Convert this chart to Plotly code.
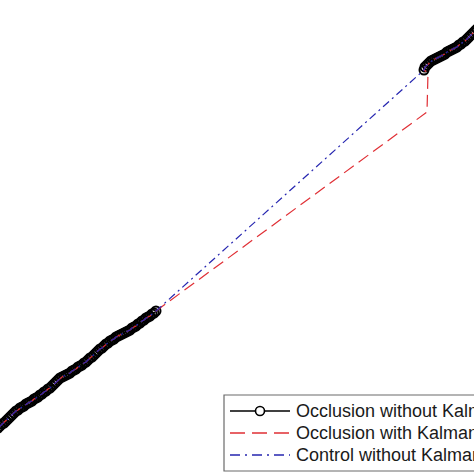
import plotly.graph_objects as go

# tracked positions (image pixels, y grows downward) before the occlusion
before_x = [-2, 0, 2, 4, 6, 8, 10, 12, 14, 16, 18, 20, 22, 24, 26, 28, 30, 32, 34, 36,
            38, 40, 42, 44, 46, 48, 50, 52, 54, 56, 58, 60, 62, 64, 66, 68, 70, 72, 74, 76,
            78, 80, 82, 84, 86, 88, 90, 92, 94, 96, 98, 100, 102, 104, 106, 108, 110, 112, 114, 116,
            118, 120, 122, 124, 126, 128, 130, 132, 134, 136, 138, 140, 142, 144, 146, 148, 150, 152, 154, 156]
before_y = [428, 426, 424, 423, 421, 419, 417, 415, 413, 411, 410, 408, 407, 406, 404, 403, 402, 401, 399, 398,
            397, 395, 394, 392, 391, 389, 388, 386, 384, 382, 380, 378, 377, 376, 375, 374, 373, 371, 370, 369,
            367, 366, 365, 363, 362, 360, 358, 357, 355, 353, 351, 349, 348, 346, 344, 343, 341, 340, 339, 337,
            336, 335, 334, 333, 332, 331, 330, 328, 327, 326, 324, 323, 321, 320, 318, 317, 316, 314, 313, 311]

# tracked positions after the occlusion
after_x = [424, 425, 427, 429, 431, 433, 435, 437, 439, 441, 443, 445, 447, 449, 451, 453, 455, 457, 459, 461,
           463, 465, 467, 469, 471, 473, 475, 477]
after_y = [70, 67, 65, 63, 61, 60, 59, 58, 57, 56, 55, 54, 52, 51, 50, 49, 48, 47, 45, 44,
           42, 41, 39, 37, 35, 33, 31, 29]

# Kalman predictions during the occlusion
kalman_x = [427, 428]
kalman_y = [112, 73]

fig = go.Figure()

# occlusion without Kalman: gap while the object is hidden
fig.add_trace(go.Scatter(
    x=before_x + [None] + after_x,
    y=before_y + [None] + after_y,
    mode="lines+markers",
    line=dict(color="black", width=1),
    marker=dict(symbol="circle-open", size=9, color="black", line=dict(width=2, color="black")),
    name="Occlusion without Kalman",
    connectgaps=False,
))

fig.add_trace(go.Scatter(
    x=before_x + kalman_x + after_x,
    y=before_y + kalman_y + after_y,
    mode="lines",
    line=dict(color="#e02f35", width=1.2, dash="12px,6px"),
    name="Occlusion with Kalman",
))

fig.add_trace(go.Scatter(
    x=before_x + after_x,
    y=before_y + after_y,
    mode="lines",
    line=dict(color="#2626b0", width=1.2, dash="8px,4px,2px,4px"),
    name="Control without Kalman",
))

W = 474.0
legend_names = ["Occlusion without Kalman", "Occlusion with Kalman", "Control without Kalman"]
legend_rows = [411, 433, 455]
legend_styles = [("black", "solid"), ("#e02f35", "15px,7px"), ("#2626b0", "10px,5px,2px,5px")]

shapes = [dict(type="rect", xref="paper", yref="paper",
               x0=224 / W, x1=490 / W, y0=1 - 395 / W, y1=1 - 471 / W,
               line=dict(color="#6a6a6a", width=1.2), fillcolor="white", layer="above")]
annotations = []
for name, row, (col, dash) in zip(legend_names, legend_rows, legend_styles):
    shapes.append(dict(type="line", xref="paper", yref="paper",
                       x0=230 / W, x1=290 / W, y0=1 - row / W, y1=1 - row / W,
                       line=dict(color=col, width=1.3, dash=dash), layer="above"))
    annotations.append(dict(text=name, xref="paper", yref="paper", x=294 / W, y=1 - row / W,
                            xanchor="left", yanchor="middle", showarrow=False,
                            font=dict(size=18, color="#1a1a1a", family="Liberation Sans, Arial")))
shapes.append(dict(type="circle", xref="paper", yref="paper",
                   x0=255.5 / W, x1=264.5 / W, y0=1 - 406.5 / W, y1=1 - 415.5 / W,
                   line=dict(color="black", width=1.6), fillcolor="white", layer="above"))

fig.update_layout(
    width=474, height=474,
    margin=dict(l=0, r=0, t=0, b=0, autoexpand=False),
    paper_bgcolor="white", plot_bgcolor="white",
    showlegend=False,
    hovermode=False,
    xaxis=dict(range=[0, 474], visible=False),
    yaxis=dict(range=[474, 0], visible=False),
    shapes=shapes,
    annotations=annotations,
)

fig.write_html("out.html", config={"displayModeBar": False},
               post_script="document.body.style.margin='0';")
